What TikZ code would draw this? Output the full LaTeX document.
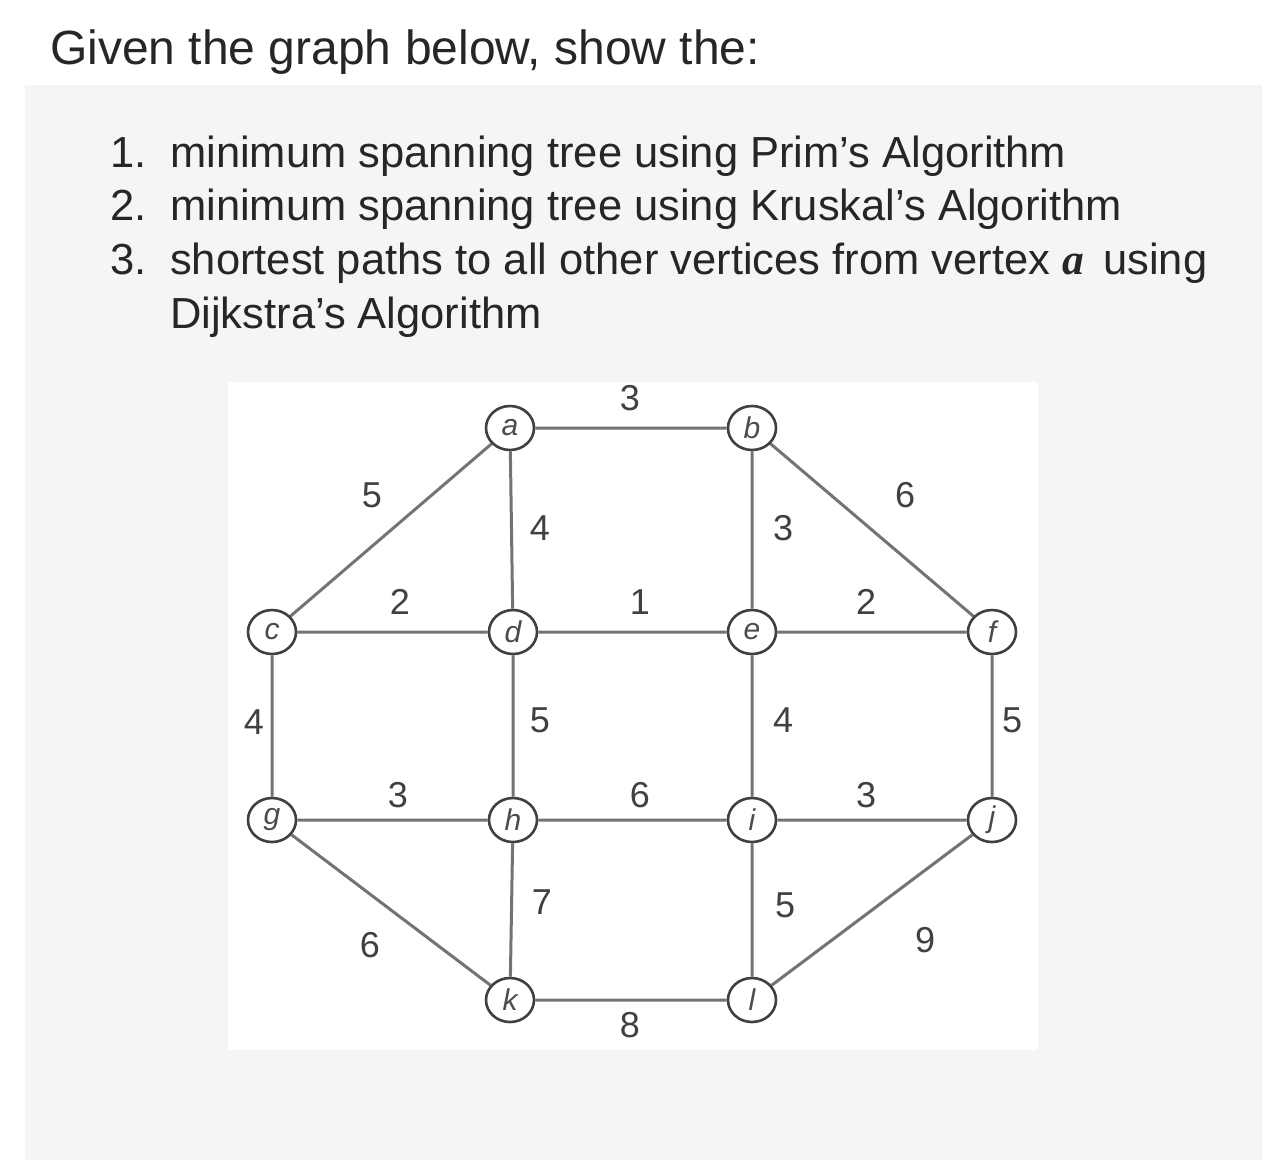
\documentclass[tikz,border=0pt]{standalone}
\usepackage{fontspec}
\setmainfont{Liberation Sans}
\newfontfamily\serifit{Liberation Serif}
\usetikzlibrary{shapes.geometric,backgrounds}
\begin{document}
\begin{tikzpicture}[x=1pt,y=-1pt,
  vtx/.style={draw=black!75,line width=2.6pt,fill=white,ellipse,minimum width=48pt,minimum height=44pt,inner sep=0pt,font=\fontsize{30}{30}\selectfont\itshape,text=black!70},
  edge/.style={draw=black!55,line width=3pt},
  wt/.style={font=\fontsize{36}{36}\selectfont,text=black!75},
  txt/.style={anchor=base west,font=\fontsize{43.5}{43.5}\selectfont,text=black!85,inner sep=0pt}]
\useasboundingbox (0,0) rectangle (1284,1160);
\node[txt,font=\fontsize{48}{48}\selectfont] (t0) at (50,64) {Given the graph below, show the:};
\node[txt] (n1) at (110,167) {1.}; \node[txt] (l1) at (170,167) {minimum spanning tree using Prim’s Algorithm};
\node[txt] (n2) at (110,220) {2.}; \node[txt] (l2) at (170,220) {minimum spanning tree using Kruskal’s Algorithm};
\node[txt] (n3) at (110,274) {3.}; \node[txt] (l3) at (170,274) {shortest paths to all other vertices from vertex {\serifit\bfseries\itshape a}\, using};
\node[txt] (l4) at (170,328) {Dijkstra’s Algorithm};
\node[vtx] (a) at (510,428) {a};
\node[vtx] (b) at (752,428) {b};
\node[vtx] (c) at (272,632) {c};
\node[vtx] (d) at (513,632) {d};
\node[vtx] (e) at (752,632) {e};
\node[vtx] (f) at (992,632) {f};
\node[vtx] (g) at (272,820) {g};
\node[vtx] (h) at (513,820) {h};
\node[vtx] (i) at (752,820) {i};
\node[vtx] (j) at (992,820) {j};
\node[vtx] (k) at (510,1000) {k};
\node[vtx] (l) at (752,1000) {l};
\begin{scope}[on background layer]
\fill[black!4] (25,85) rectangle (1262,1160);
\fill[white] (228,382) rectangle (1038,1050);
\path[edge] (a)--(b) (a)--(c) (a)--(d) (b)--(e) (b)--(f) (c)--(d) (d)--(e) (e)--(f)
 (c)--(g) (d)--(h) (e)--(i) (f)--(j) (g)--(h) (h)--(i) (i)--(j) (g)--(k) (h)--(k) (i)--(l) (j)--(l) (k)--(l);
\end{scope}
\node[wt] (w1) at (630,398) {3};
\node[wt] (w2) at (372,495) {5};
\node[wt] (w3) at (540,528) {4};
\node[wt] (w4) at (783,528) {3};
\node[wt] (w5) at (905,495) {6};
\node[wt] (w6) at (400,602) {2};
\node[wt] (w7) at (640,602) {1};
\node[wt] (w8) at (866,602) {2};
\node[wt] (w9) at (254,722) {4};
\node[wt] (w10) at (540,720) {5};
\node[wt] (w11) at (783,720) {4};
\node[wt] (w12) at (1012,720) {5};
\node[wt] (w13) at (398,795) {3};
\node[wt] (w14) at (640,795) {6};
\node[wt] (w15) at (866,795) {3};
\node[wt] (w16) at (542,902) {7};
\node[wt] (w17) at (785,905) {5};
\node[wt] (w18) at (370,945) {6};
\node[wt] (w19) at (925,940) {9};
\node[wt] (w20) at (630,1025) {8};
\end{tikzpicture}
\end{document}
